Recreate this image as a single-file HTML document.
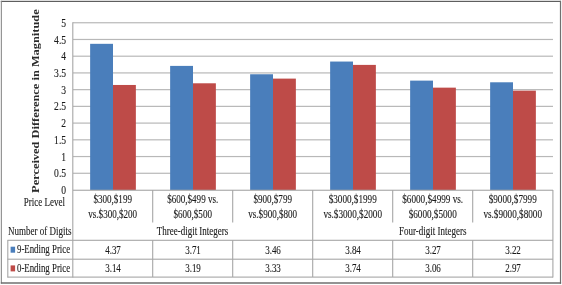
<!DOCTYPE html><html><head><meta charset="utf-8"><style>html,body{margin:0;padding:0;background:#fff}svg{display:block}</style></head><body>
<svg width="562" height="285" viewBox="0 0 562 285" font-family="Liberation Serif, serif" font-size="12" fill="#1a1a1a">
<rect width="562" height="285" fill="#fff" stroke="none"/>
<rect x="0.8" y="0.8" width="560.2" height="1.2" fill="#5e5e5e"/>
<rect x="0.8" y="0.8" width="1.1" height="282.7" fill="#8a8a8a"/>
<rect x="559.9" y="0.8" width="1.2" height="282.9" fill="#707070"/>
<rect x="0.8" y="282.3" width="560.3" height="1.4" fill="#666"/>
<rect x="73" y="172.68" width="480" height="1.2" fill="#b8b8b8"/>
<rect x="73" y="155.95" width="480" height="1.2" fill="#b8b8b8"/>
<rect x="73" y="139.22" width="480" height="1.2" fill="#b8b8b8"/>
<rect x="73" y="122.50" width="480" height="1.2" fill="#b8b8b8"/>
<rect x="73" y="105.78" width="480" height="1.2" fill="#b8b8b8"/>
<rect x="73" y="89.05" width="480" height="1.2" fill="#b8b8b8"/>
<rect x="73" y="72.32" width="480" height="1.2" fill="#b8b8b8"/>
<rect x="73" y="55.60" width="480" height="1.2" fill="#b8b8b8"/>
<rect x="73" y="38.87" width="480" height="1.2" fill="#b8b8b8"/>
<rect x="73" y="22.15" width="480" height="1.2" fill="#b8b8b8"/>
<rect x="90.14" y="43.82" width="22.86" height="146.18" fill="#4a7ebb"/>
<rect x="113.00" y="84.97" width="22.86" height="105.03" fill="#be4b48"/>
<rect x="170.14" y="65.90" width="22.86" height="124.10" fill="#4a7ebb"/>
<rect x="193.00" y="83.29" width="22.86" height="106.71" fill="#be4b48"/>
<rect x="250.14" y="74.26" width="22.86" height="115.74" fill="#4a7ebb"/>
<rect x="273.00" y="78.61" width="22.86" height="111.39" fill="#be4b48"/>
<rect x="330.14" y="61.55" width="22.86" height="128.45" fill="#4a7ebb"/>
<rect x="353.00" y="64.90" width="22.86" height="125.10" fill="#be4b48"/>
<rect x="410.14" y="80.62" width="22.86" height="109.38" fill="#4a7ebb"/>
<rect x="433.00" y="87.64" width="22.86" height="102.36" fill="#be4b48"/>
<rect x="490.14" y="82.29" width="22.86" height="107.71" fill="#4a7ebb"/>
<rect x="513.00" y="90.65" width="22.86" height="99.35" fill="#be4b48"/>
<rect x="73" y="189.70" width="480" height="1.1" fill="#a6a6a6"/>
<rect x="7.5" y="239.75" width="545.5" height="1.1" fill="#a6a6a6"/>
<rect x="7.5" y="258.65" width="545.5" height="1.1" fill="#a6a6a6"/>
<rect x="7.5" y="276.55" width="545.5" height="1.1" fill="#a6a6a6"/>
<rect x="7.25" y="240.2" width="1.1" height="37.30000000000001" fill="#a6a6a6"/>
<rect x="72.25" y="22.2" width="1.1" height="255.3" fill="#a6a6a6"/>
<rect x="552.35" y="190" width="1.1" height="87.5" fill="#a6a6a6"/>
<rect x="312.15" y="190" width="1.1" height="87" fill="#a6a6a6"/>
<rect x="152.15" y="190" width="1.1" height="32.5" fill="#a6a6a6"/>
<rect x="152.15" y="240.2" width="1.1" height="36.80000000000001" fill="#a6a6a6"/>
<rect x="232.15" y="190" width="1.1" height="32.5" fill="#a6a6a6"/>
<rect x="232.15" y="240.2" width="1.1" height="36.80000000000001" fill="#a6a6a6"/>
<rect x="392.15" y="190" width="1.1" height="32.5" fill="#a6a6a6"/>
<rect x="392.15" y="240.2" width="1.1" height="36.80000000000001" fill="#a6a6a6"/>
<rect x="472.15" y="190" width="1.1" height="32.5" fill="#a6a6a6"/>
<rect x="472.15" y="240.2" width="1.1" height="36.80000000000001" fill="#a6a6a6"/>
<text transform="translate(66.10,194.10) scale(0.8,1)" text-anchor="end" stroke="#1a1a1a" stroke-width="0.12">0</text>
<text transform="translate(66.10,177.38) scale(0.8,1)" text-anchor="end" stroke="#1a1a1a" stroke-width="0.12">0.5</text>
<text transform="translate(66.10,160.65) scale(0.8,1)" text-anchor="end" stroke="#1a1a1a" stroke-width="0.12">1</text>
<text transform="translate(66.10,143.92) scale(0.8,1)" text-anchor="end" stroke="#1a1a1a" stroke-width="0.12">1.5</text>
<text transform="translate(66.10,127.20) scale(0.8,1)" text-anchor="end" stroke="#1a1a1a" stroke-width="0.12">2</text>
<text transform="translate(66.10,110.47) scale(0.8,1)" text-anchor="end" stroke="#1a1a1a" stroke-width="0.12">2.5</text>
<text transform="translate(66.10,93.75) scale(0.8,1)" text-anchor="end" stroke="#1a1a1a" stroke-width="0.12">3</text>
<text transform="translate(66.10,77.02) scale(0.8,1)" text-anchor="end" stroke="#1a1a1a" stroke-width="0.12">3.5</text>
<text transform="translate(66.10,60.30) scale(0.8,1)" text-anchor="end" stroke="#1a1a1a" stroke-width="0.12">4</text>
<text transform="translate(66.10,43.57) scale(0.8,1)" text-anchor="end" stroke="#1a1a1a" stroke-width="0.12">4.5</text>
<text transform="translate(66.10,26.85) scale(0.8,1)" text-anchor="end" stroke="#1a1a1a" stroke-width="0.12">5</text>
<text transform="translate(39.0,101.1) rotate(-90) scale(1.033,0.82)" text-anchor="middle" font-weight="bold" fill="#2a2a2a">Perceived Difference in Magnitude</text>
<text transform="translate(112.70,203.40) scale(0.755,1)" text-anchor="middle" stroke="#1a1a1a" stroke-width="0.12">$300,$199</text>
<text transform="translate(112.70,218.10) scale(0.755,1)" text-anchor="middle" stroke="#1a1a1a" stroke-width="0.12">vs.$300,$200</text>
<text transform="translate(192.70,203.40) scale(0.755,1)" text-anchor="middle" stroke="#1a1a1a" stroke-width="0.12">$600,$499 vs.</text>
<text transform="translate(192.70,218.10) scale(0.755,1)" text-anchor="middle" stroke="#1a1a1a" stroke-width="0.12">$600,$500</text>
<text transform="translate(272.70,203.40) scale(0.755,1)" text-anchor="middle" stroke="#1a1a1a" stroke-width="0.12">$900,$799</text>
<text transform="translate(272.70,218.10) scale(0.755,1)" text-anchor="middle" stroke="#1a1a1a" stroke-width="0.12">vs.$900,$800</text>
<text transform="translate(352.70,203.40) scale(0.765,1)" text-anchor="middle" stroke="#1a1a1a" stroke-width="0.12">$3000,$1999</text>
<text transform="translate(352.70,218.10) scale(0.765,1)" text-anchor="middle" stroke="#1a1a1a" stroke-width="0.12">vs.$3000,$2000</text>
<text transform="translate(432.70,203.40) scale(0.765,1)" text-anchor="middle" stroke="#1a1a1a" stroke-width="0.12">$6000,$4999 vs.</text>
<text transform="translate(432.70,218.10) scale(0.765,1)" text-anchor="middle" stroke="#1a1a1a" stroke-width="0.12">$6000,$5000</text>
<text transform="translate(512.70,203.40) scale(0.765,1)" text-anchor="middle" stroke="#1a1a1a" stroke-width="0.12">$9000,$7999</text>
<text transform="translate(512.70,218.10) scale(0.765,1)" text-anchor="middle" stroke="#1a1a1a" stroke-width="0.12">vs.$9000,$8000</text>
<text transform="translate(65.00,205.50) scale(0.75,1)" text-anchor="end" stroke="#1a1a1a" stroke-width="0.12">Price Level</text>
<text transform="translate(8.00,234.80) scale(0.75,1)" text-anchor="start" stroke="#1a1a1a" stroke-width="0.12">Number of Digits</text>
<text transform="translate(192.50,235.30) scale(0.75,1)" text-anchor="middle" stroke="#1a1a1a" stroke-width="0.12">Three-digit Integers</text>
<text transform="translate(432.80,235.30) scale(0.75,1)" text-anchor="middle" stroke="#1a1a1a" stroke-width="0.12">Four-digit Integers</text>
<rect x="10.6" y="246.7" width="4.5" height="6" fill="#4a7ebb"/>
<rect x="10.6" y="265.4" width="4.5" height="6" fill="#be4b48"/>
<text transform="translate(17.00,253.40) scale(0.735,1)" text-anchor="start" stroke="#1a1a1a" stroke-width="0.12">9-Ending Price</text>
<text transform="translate(17.00,271.60) scale(0.735,1)" text-anchor="start" stroke="#1a1a1a" stroke-width="0.12">0-Ending Price</text>
<text transform="translate(113.00,253.80) scale(0.75,1)" text-anchor="middle" stroke="#1a1a1a" stroke-width="0.12">4.37</text>
<text transform="translate(113.00,272.00) scale(0.75,1)" text-anchor="middle" stroke="#1a1a1a" stroke-width="0.12">3.14</text>
<text transform="translate(193.00,253.80) scale(0.75,1)" text-anchor="middle" stroke="#1a1a1a" stroke-width="0.12">3.71</text>
<text transform="translate(193.00,272.00) scale(0.75,1)" text-anchor="middle" stroke="#1a1a1a" stroke-width="0.12">3.19</text>
<text transform="translate(273.00,253.80) scale(0.75,1)" text-anchor="middle" stroke="#1a1a1a" stroke-width="0.12">3.46</text>
<text transform="translate(273.00,272.00) scale(0.75,1)" text-anchor="middle" stroke="#1a1a1a" stroke-width="0.12">3.33</text>
<text transform="translate(353.00,253.80) scale(0.75,1)" text-anchor="middle" stroke="#1a1a1a" stroke-width="0.12">3.84</text>
<text transform="translate(353.00,272.00) scale(0.75,1)" text-anchor="middle" stroke="#1a1a1a" stroke-width="0.12">3.74</text>
<text transform="translate(433.00,253.80) scale(0.75,1)" text-anchor="middle" stroke="#1a1a1a" stroke-width="0.12">3.27</text>
<text transform="translate(433.00,272.00) scale(0.75,1)" text-anchor="middle" stroke="#1a1a1a" stroke-width="0.12">3.06</text>
<text transform="translate(513.00,253.80) scale(0.75,1)" text-anchor="middle" stroke="#1a1a1a" stroke-width="0.12">3.22</text>
<text transform="translate(513.00,272.00) scale(0.75,1)" text-anchor="middle" stroke="#1a1a1a" stroke-width="0.12">2.97</text>
</svg>
</body></html>
